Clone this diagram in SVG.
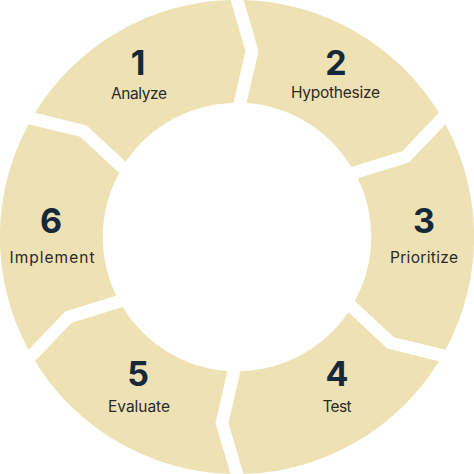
<svg xmlns="http://www.w3.org/2000/svg" xmlns:xlink="http://www.w3.org/1999/xlink" width="474" height="474" viewBox="0 0 474 474">
<style>
.seg{fill:#EEE2B5}
.num{font-family:Inter,"Liberation Sans",sans-serif;font-weight:700;font-size:34px;fill:#16293A;text-anchor:middle}
.lbl{font-family:Inter,"Liberation Sans",sans-serif;font-weight:400;font-size:15.5px;fill:#2A2A2A;text-anchor:middle}
</style>
<defs>
<path id="seg" class="seg" d="M243.5 0 A237 237 0 0 1 438.99 112.87 L402.33 151.36 L351.29 166.97 A134 134 0 0 0 246.5 103 L258.5 51 Z"/>
</defs>
<rect width="474" height="474" fill="#FFFFFF"/>
<g id="connectors"></g>
<g id="node1"><use xlink:href="#seg" transform="rotate(-60 237 237)"/><text class="num" x="138" y="75">1</text><text class="lbl" x="139" y="98.5" textLength="56">Analyze</text></g>
<g id="node2"><use xlink:href="#seg"/><text class="num" x="336" y="75">2</text><text class="lbl" x="335.5" y="98" textLength="89">Hypothesize</text></g>
<g id="node3"><use xlink:href="#seg" transform="rotate(60 237 237)"/><text class="num" x="424" y="233">3</text><text class="lbl" x="424" y="262.5" textLength="68">Prioritize</text></g>
<g id="node4"><use xlink:href="#seg" transform="rotate(120 237 237)"/><text class="num" x="337" y="386">4</text><text class="lbl" x="337" y="411.5" textLength="29">Test</text></g>
<g id="node5"><use xlink:href="#seg" transform="rotate(180 237 237)"/><text class="num" x="138" y="386">5</text><text class="lbl" x="139" y="411.5" textLength="62">Evaluate</text></g>
<g id="node6"><use xlink:href="#seg" transform="rotate(240 237 237)"/><text class="num" x="51" y="233">6</text><text class="lbl" x="52" y="262.5" textLength="85">Implement</text></g>
</svg>
